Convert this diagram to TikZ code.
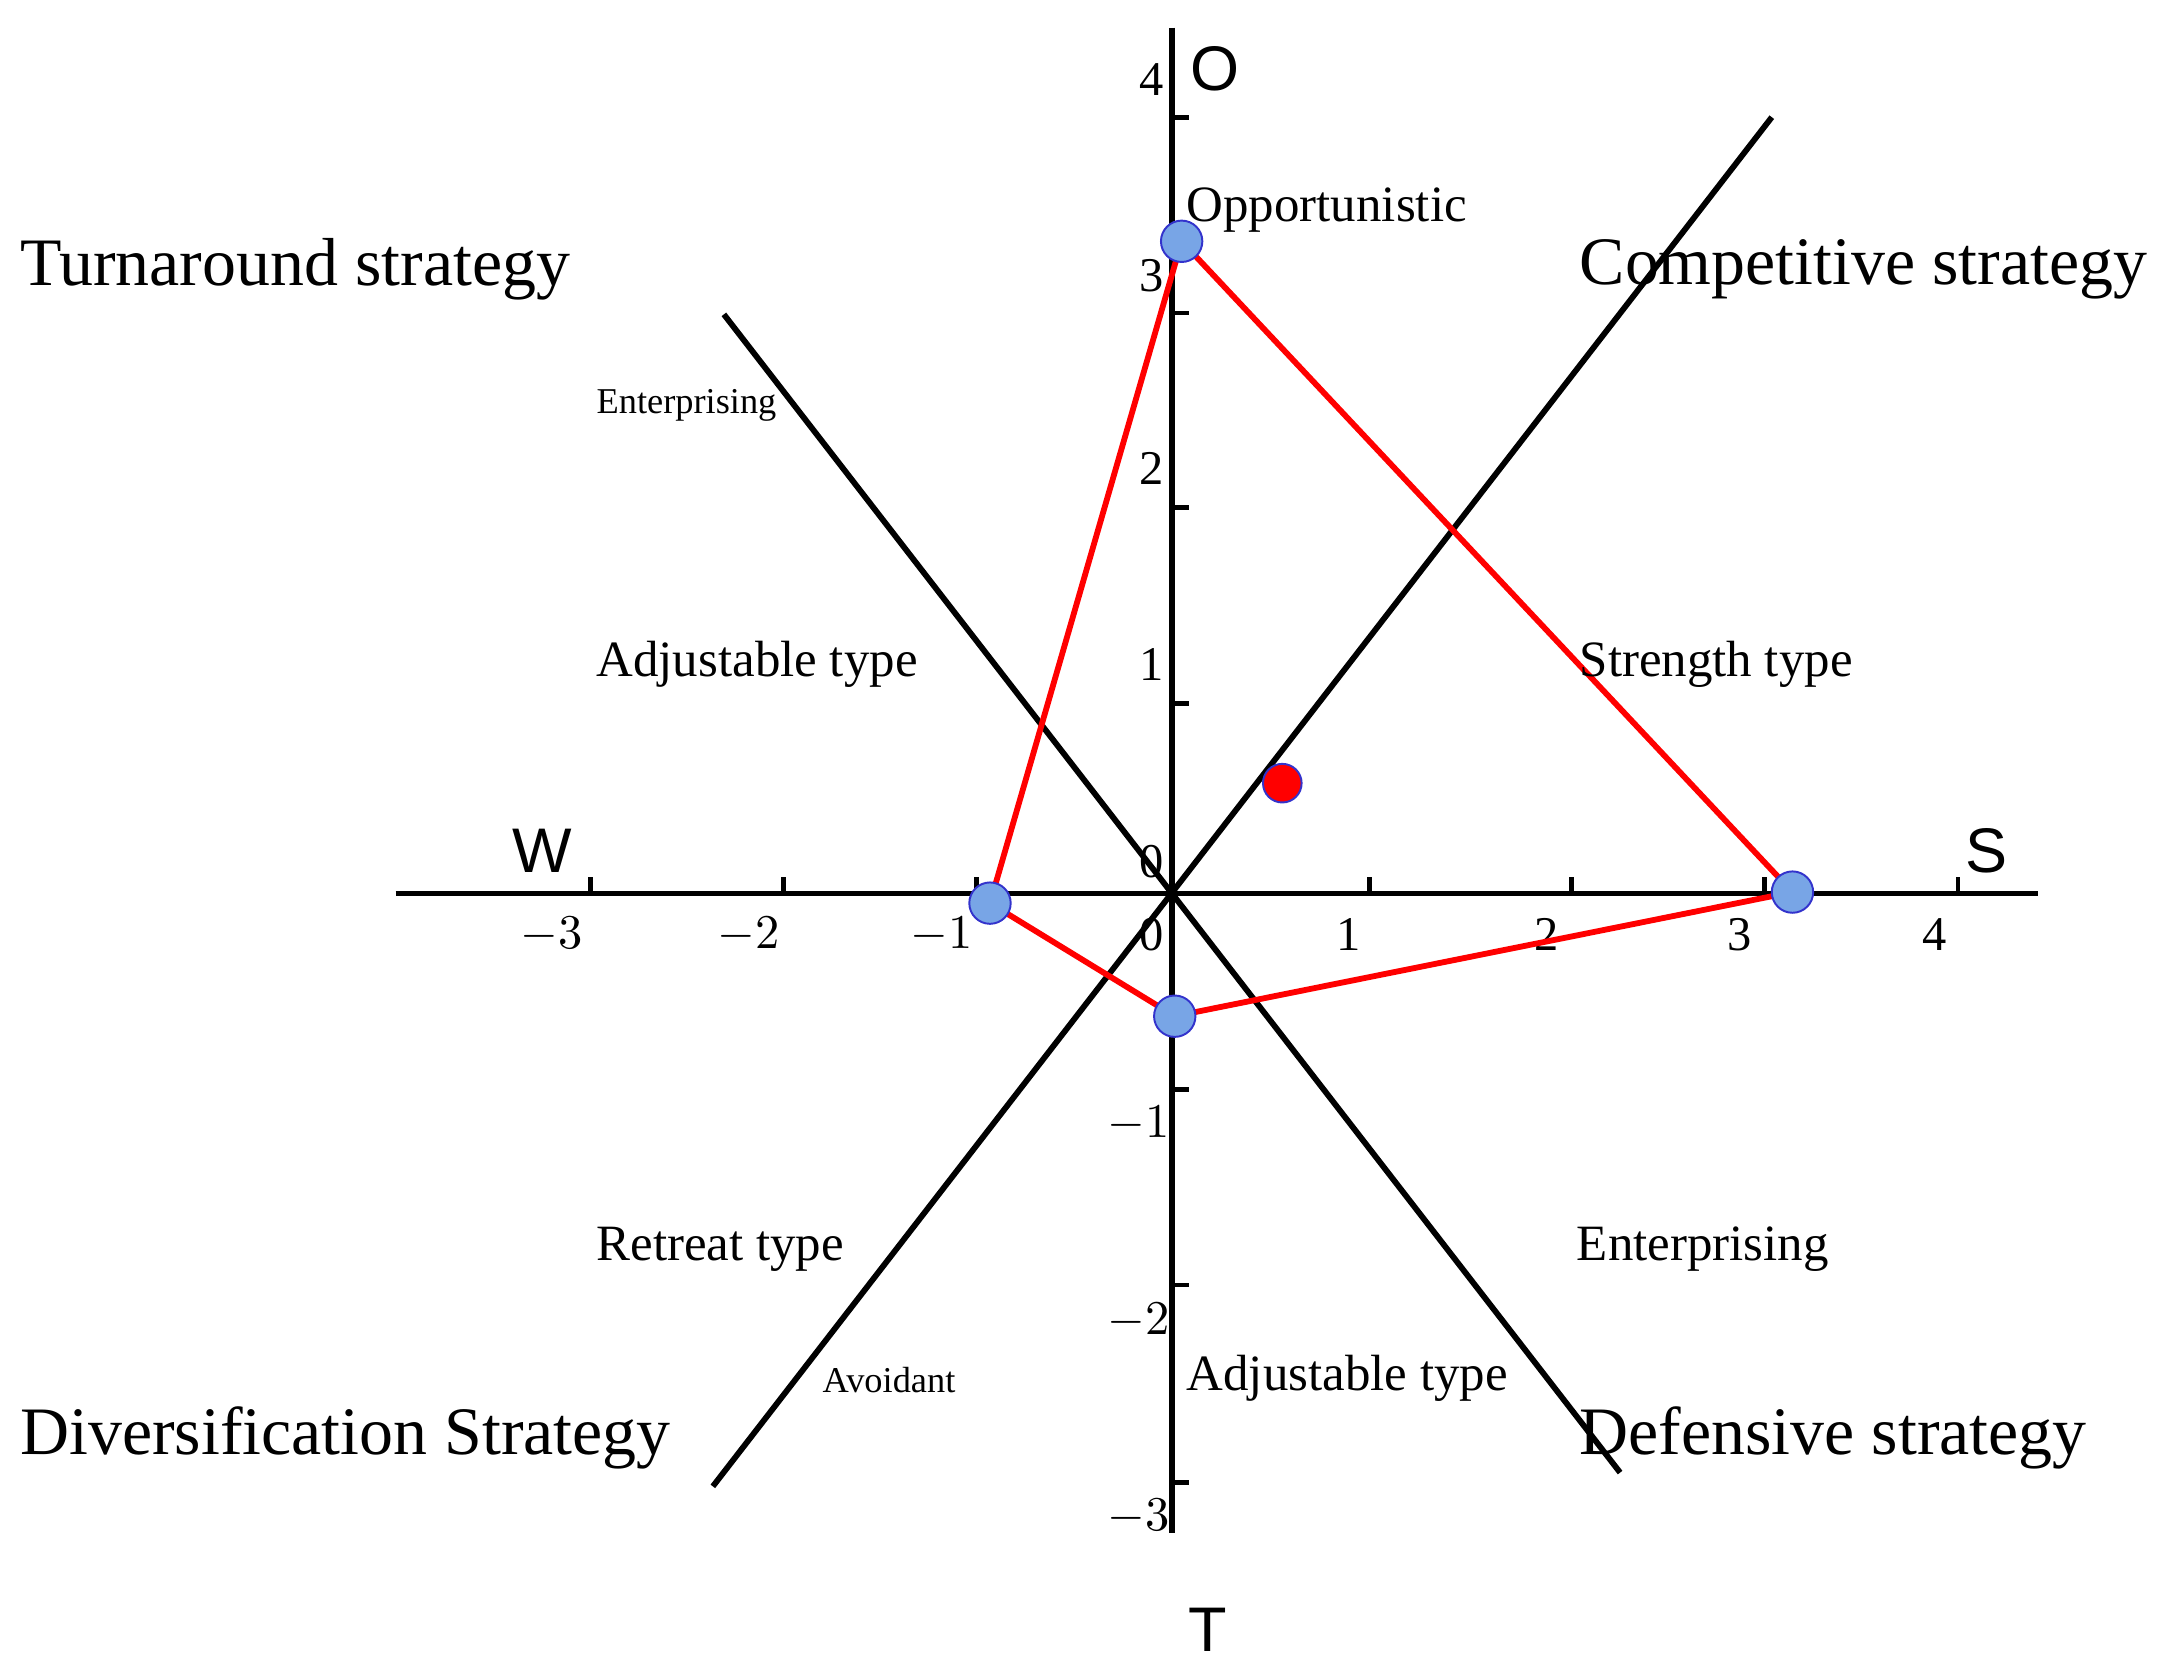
\documentclass[tikz,border=0pt]{standalone}
\usepackage{fontspec}
\setmainfont{Liberation Serif}
\newfontfamily\axf{Liberation Sans}
\begin{document}
\begin{tikzpicture}[x=0.01cm,y=-0.01cm,
  big/.style={font=\fontsize{14}{16}\selectfont,anchor=west,inner sep=0pt},
  mid/.style={font=\fontsize{10.5}{12}\selectfont,anchor=west,inner sep=0pt},
  sml/.style={font=\fontsize{7.5}{9}\selectfont,anchor=west,inner sep=0pt},
  tk/.style={font=\fontsize{10}{12}\selectfont},
  ax/.style={font=\axf\fontsize{13}{15}\selectfont},
  pt/.style={circle,draw=blue!60!gray,fill={rgb,255:red,120;green,165;blue,230},minimum size=0.3cm,inner sep=0pt},
  ln/.style={line width=1.2pt}]
\useasboundingbox (0,0) rectangle (1568,1212);
% axes
\draw[ln] (287,648) -- (1478,648);
\draw[ln] (850,20) -- (850,1112);
\foreach \x in {428,568,708,993,1140,1280,1420} \draw[line width=1pt] (\x,648) -- (\x,636);
\foreach \y in {85,227,368,510,790,932,1075} \draw[line width=1pt] (850,\y) -- (862,\y);
% diagonals
\draw[ln] (517,1078) -- (1285,85);
\draw[ln] (525,228) -- (1175,1068);
% tick labels
\foreach \v/\x in {$-3$/400,$-2$/543,$-1$/683,0/835,1/978,2/1122,3/1262,4/1403} \node[tk] at (\x,678) {\v};
\foreach \v/\y in {4/58,3/200,2/340,1/482,0/625} \node[tk] at (835,\y) {\v};
\foreach \v/\y in {$-1$/815,$-2$/958,$-3$/1100} \node[tk] at (826,\y) {\v};
% axis letters
\node[ax] at (393,617) {W};
\node[ax] at (1441,617) {S};
\node[ax] at (881,50) {O};
\node[ax] at (876,1182) {T};
% polygon
\coordinate (p1) at (857,175);
\coordinate (p2) at (1300,647);
\coordinate (p3) at (852,737);
\coordinate (p4) at (718,655);
\draw[red,line width=1.2pt] (p1) -- (p2) -- (p3) -- (p4) -- cycle;
\node[pt] (n1) at (p1) {};
\node[pt] (n2) at (p2) {};
\node[pt] (n3) at (p3) {};
\node[pt] (n4) at (p4) {};
\node[circle,draw=blue!60!gray,fill=red,minimum size=0.28cm,inner sep=0pt] (r) at (930,568) {};
% labels
\node[big] at (14,195) {Turnaround strategy};
\node[big] at (1145,195) {Competitive strategy};
\node[big] at (14,1043) {Diversification Strategy};
\node[big] at (1145,1043) {Defensive strategy};
\node[mid] at (860,152) {Opportunistic};
\node[mid] at (432,482) {Adjustable type};
\node[mid] at (1145,482) {Strength type};
\node[mid] at (432,906) {Retreat type};
\node[mid] at (1143,906) {Enterprising};
\node[mid] at (860,1000) {Adjustable type};
\node[sml] at (432,294) {Enterprising};
\node[sml] at (596,1001) {Avoidant};
\end{tikzpicture}
\end{document}
